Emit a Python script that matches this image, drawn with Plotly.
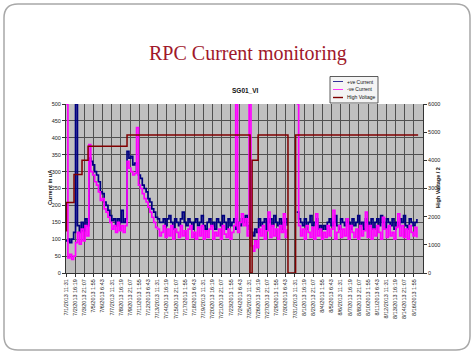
import plotly.graph_objects as go

# ---------------- data ----------------
tick_labels = [
    "7/1/2013 11:31", "7/2/2013 16:19", "7/3/2013 21:07", "7/5/2013 1:55", "7/6/2013 6:43",
    "7/7/2013 11:31", "7/8/2013 16:19", "7/9/2013 21:07", "7/11/2013 1:55", "7/12/2013 6:43",
    "7/13/2013 11:31", "7/14/2013 16:19", "7/15/2013 21:07", "7/17/2013 1:55", "7/18/2013 6:43",
    "7/19/2013 11:31", "7/20/2013 16:19", "7/21/2013 21:07", "7/23/2013 1:55", "7/24/2013 6:43",
    "7/25/2013 11:31", "7/26/2013 16:19", "7/27/2013 21:07", "7/29/2013 1:55", "7/30/2013 6:43",
    "7/31/2013 11:31", "8/1/2013 16:19", "8/2/2013 21:07", "8/4/2013 1:55", "8/5/2013 6:43",
    "8/6/2013 11:31", "8/7/2013 16:19", "8/8/2013 21:07", "8/10/2013 1:55", "8/11/2013 6:43",
    "8/12/2013 11:31", "8/13/2013 16:19", "8/14/2013 21:07", "8/16/2013 1:55",
]
tick_step_days = 1.2
sample_step_days = 0.25

pos_current = [
    95, 100, 90, 100, 120, 500, 140, 120, 150, 125,
    160, 140, 340, 330, 320, 300, 290, 270, 240, 235,
    210, 200, 185, 170, 155, 160, 140, 160, 150, 185,
    150, 160, 360, 340, 345, 320, 325, 300, 290, 280,
    260, 250, 240, 220, 210, 190, 180, 165, 160, 150,
    150, 160, 140, 160, 170, 150, 130, 160, 150, 140,
    160, 180, 150, 140, 160, 150, 130, 150, 160, 140,
    150, 170, 140, 130, 150, 160, 140, 150, 130, 160,
    150, 140, 170, 150, 130, 160, 140, 150, 160, 130,
    150, 140, 160, 150, 170, 140, 130,
    120, 110, 130, 120,
    160, 140, 150, 160, 130, 150, 160, 140, 170, 150, 140, 160, 130, 150, 160, 140,
    None, None, None, None,
    180,
    160, 150, 140, 160, 130, 150, 170, 140, 150, 160,
    130, 140, 130, 140, 130, 150, 160, 140, 150, 170,
    140, 130, 160, 150, 140, 160, 150, 130, 160, 140,
    150, 170, 140, 150, 130, 160, 150, 140, 160, 130,
    150, 160, 140, 170, 150, 130, 160, 150, 140, 160,
    130, 150, 140, 160, 150, 170, 140, 130, 160, 150,
    140, 150, 160,
]

neg_current = [
    500, 45, 55, 40, 50, 90, 120, 85, 130, 95,
    140, 110, 380, 300, 290, 270, 260, 240, 215, 220,
    190, 180, 165, 150, 130, 140, 120, 150, 125, 140,
    120, 140, 330, 310, 300, 290, 295, 430, 260, 250,
    235, 220, 210, 195, 180, 165, 150, 135, 130, 110,
    120, 140, 105, 130, 110, 140, 100, 130, 120, 105,
    140, 110, 125, 100, 130, 140, 105, 120, 100, 135,
    110, 140, 100, 125, 105, 130, 140, 100, 120, 110,
    130, 100, 140, 115, 105, 130, 100, 120, 140, 500,
    120, 150, 175, 140, 160, 110, 500,
    80, 65, 95, 75,
    130, 110, 140, 100, 125, 180, 105, 140, 110, 130, 100, 140, 120, 175, 105, 130,
    None, None, None, None,
    500,
    140, 110, 130, 100, 140, 120, 105, 135, 100, 175,
    110, 130, 100, 120, 105, 140, 110, 130, 185, 100,
    120, 140, 105, 130, 110, 160, 100, 140, 120, 105,
    130, 100, 140, 110, 125, 180, 105, 140, 100, 130,
    110, 140, 120, 100, 165, 130, 105, 140, 110, 120,
    100, 135, 175, 110, 140, 105, 130, 100, 140, 120,
    110, 135, 105,
]

hv_days = [0.0, 0.05, 1.05, 2.1, 2.89, 8.0, 24.13, 24.4, 25.18, 29.1, 30.1, 46.16]
hv_values = [1500, 2500, 3500, 4000, 4500, 4900, 0, 4000, 4900, 0, 4900, 4900]

sample_days = [i * sample_step_days for i in range(len(pos_current))]
tick_days = [i * tick_step_days for i in range(len(tick_labels))]

# ---------------- layout helpers ----------------
W, H = 474, 355
ML, MR, MT, MB = 66, 51, 104, 82
PW, PH = W - ML - MR, H - MT - MB


def px(x):
    return (x - ML) / PW


def py(y):
    return (H - MB - y) / PH


fig = go.Figure()
fig.add_trace(go.Scatter(x=sample_days, y=pos_current, mode="lines", name="+ve Current",
                         line=dict(color="#000080", width=1.7, shape="hv"), connectgaps=False))
fig.add_trace(go.Scatter(x=sample_days, y=neg_current, mode="lines", name="-ve Current",
                         line=dict(color="#ff00ff", width=1.7, shape="hv"), connectgaps=False))
fig.add_trace(go.Scatter(x=hv_days, y=hv_values, mode="lines", name="High Voltage", yaxis="y2",
                         line=dict(color="#800000", width=1.5, shape="hv")))

tickfont = dict(family="Liberation Sans, Arial, sans-serif", size=5.5, color="#222")
fig.update_layout(
    width=W, height=H, margin=dict(l=ML, r=MR, t=MT, b=MB, pad=0),
    paper_bgcolor="white", plot_bgcolor="#c0c0c0", showlegend=False,
    font=dict(family="Liberation Sans, Arial, sans-serif"),
    xaxis=dict(range=[0, 46.8], tickmode="array", tickvals=tick_days, ticktext=tick_labels,
               tickangle=-90, tickfont=tickfont, showgrid=True, gridcolor="#505050", gridwidth=0.8,
               ticks="outside", ticklen=3, tickcolor="#333", showline=True, linecolor="#333",
               linewidth=1, zeroline=False),
    yaxis=dict(range=[0, 500], tickmode="linear", tick0=0, dtick=50, tickfont=tickfont,
               showgrid=True, gridcolor="#505050", gridwidth=0.8, ticks="outside", ticklen=3,
               tickcolor="#333", showline=True, linecolor="#333", linewidth=1, zeroline=False),
    yaxis2=dict(range=[0, 6000], tickmode="linear", tick0=0, dtick=1000, overlaying="y", side="right",
                tickfont=tickfont, showgrid=False, ticks="outside", ticklen=3, tickcolor="#333",
                showline=True, linecolor="#333", linewidth=1, zeroline=False),
)

ann = []
ann.append(dict(text="RPC Current monitoring", x=px(248), y=py(40), xref="paper", yref="paper",
                showarrow=False, font=dict(family="Liberation Serif, Times New Roman, serif", size=20,
                                           color="#a0182a")))
ann.append(dict(text="<b>SG01_VI</b>", x=px(245), y=py(85), xref="paper", yref="paper",
                showarrow=False, font=dict(size=6.5, color="#111")))
ann.append(dict(text="<b>Current in uA</b>", x=px(45), y=py(188), xref="paper", yref="paper",
                showarrow=False, textangle=-90, font=dict(size=5.5, color="#111")))
ann.append(dict(text="<b>High Voltage / 2</b>", x=px(443), y=py(188), xref="paper", yref="paper",
                showarrow=False, textangle=-90, font=dict(size=5.5, color="#111")))

shapes = []
# legend box
shapes.append(dict(type="rect", xref="paper", yref="paper", x0=px(330), x1=px(378), y0=py(103),
                   y1=py(76.5), line=dict(color="#333", width=0.8), fillcolor="#f4f4f4", layer="above"))
leg_items = [("+ve Current", "#000080", 0.8, 81.5), ("-ve Current", "#ff00ff", 0.8, 89.5),
             ("High Voltage", "#800000", 1.4, 97.5)]
for label, col, lw, yy in leg_items:
    shapes.append(dict(type="line", xref="paper", yref="paper", x0=px(333), x1=px(343), y0=py(yy),
                       y1=py(yy), line=dict(color=col, width=lw), layer="above"))
    ann.append(dict(text=label, x=px(344.5), y=py(yy), xref="paper", yref="paper", xanchor="left",
                    yanchor="middle", showarrow=False, font=dict(size=5, color="#111")))

# slide border (rounded rectangle)
x0, x1, y0, y1, r = 4, 470, 4, 350, 14
path = (f"M {px(x0 + r)},{py(y0)} L {px(x1 - r)},{py(y0)} Q {px(x1)},{py(y0)} {px(x1)},{py(y0 + r)} "
        f"L {px(x1)},{py(y1 - r)} Q {px(x1)},{py(y1)} {px(x1 - r)},{py(y1)} "
        f"L {px(x0 + r)},{py(y1)} Q {px(x0)},{py(y1)} {px(x0)},{py(y1 - r)} "
        f"L {px(x0)},{py(y0 + r)} Q {px(x0)},{py(y0)} {px(x0 + r)},{py(y0)} Z")
shapes.append(dict(type="path", xref="paper", yref="paper", path=path,
                   line=dict(color="#a8a8a8", width=1.5)))

fig.update_layout(annotations=ann, shapes=shapes)
fig.write_html("out.html")
